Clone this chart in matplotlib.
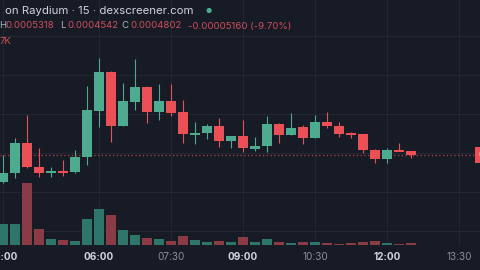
import numpy as np
import pandas as pd
import matplotlib
matplotlib.use('agg')
import matplotlib.pyplot as plt

plt.rcParams['font.family'] = ['Inter', 'DejaVu Sans']

# 15 minute candles, prices in units of 1e-7
opens = [4242, 4422, 5034, 4542, 4422, 4474, 4442, 4754, 5674, 6442,
         5368, 5854, 6154, 5642, 5874, 5642, 5198, 5234, 5368, 5068,
         5168, 4914, 4968, 5408, 5188, 5342, 5122, 5454, 5368, 5222,
         5208, 4888, 4702, 4882, 4868]
highs = [4788, 5122, 5588, 4922, 4554, 4688, 4888, 6168, 6722, 6474,
         6234, 6708, 6168, 6202, 6202, 5888, 5454, 5408, 5534, 5174,
         5488, 5142, 5568, 5434, 5622, 5388, 5588, 5654, 5442, 5254,
         5208, 4902, 4922, 5034, 4868]
lows = [4222, 4322, 4522, 4342, 4354, 4374, 4422, 4588, 5342, 5054,
        5368, 5688, 5422, 5488, 5574, 5022, 5002, 5102, 4942, 4922,
        4854, 4874, 4854, 5022, 5188, 5008, 5122, 5334, 5142, 5122,
        4822, 4622, 4634, 4858, 4722]
closes = [4422, 5034, 4542, 4422, 4474, 4434, 4754, 5688, 6442, 5368,
          5868, 6154, 5642, 5874, 5622, 5208, 5222, 5368, 5068, 5174,
          4922, 4968, 5408, 5188, 5334, 5122, 5454, 5368, 5208, 5202,
          4888, 4702, 4888, 4868, 4788]
volumes = [74, 76, 217, 56, 21, 18, 14, 91, 126, 105,
           55, 35, 25, 21, 14, 34, 18, 11, 14, 11,
           30, 11, 21, 12, 9, 11, 11, 7, 5, 7,
           12, 16, 9, 5, 7]  # thousands
grid_levels = [3268, 4048, 4828, 5608, 6388, 7168]
tick_labels = ['04:00', '06:00', '07:30', '09:00', '10:30', '12:00', '13:30']
tick_bold = [True, True, False, True, False, True, False]

bg = '#171b26'
green = '#4dab90'
red = '#ec5056'
green_vol = '#2e766a'
red_vol = '#8a3b45'
gridc = '#232734'

o = np.array(opens) * 1e-7
h = np.array(highs) * 1e-7
l = np.array(lows) * 1e-7
c = np.array(closes) * 1e-7
v = np.array(volumes)
x = np.arange(len(o))
up = c >= o
times = pd.date_range('2024-01-01 04:00', periods=len(o), freq='15min')

fig = plt.figure(figsize=(4.8, 2.7), dpi=100, facecolor=bg)
ax = fig.add_axes([0, 24.7 / 270, 1, 245.3 / 270])
ax.set_facecolor(bg)
ax.set_xlim(-0.25, 39.75)
ax.set_ylim(2982e-7, 7888e-7)

# grid
tick_pos = [(pd.Timestamp('2024-01-01 ' + t) - times[0]) / pd.Timedelta('15min') for t in tick_labels]
ax.set_xticks(tick_pos)
ax.set_yticks(np.array(grid_levels) * 1e-7)
ax.tick_params(length=0, labelbottom=False, labelleft=False)
ax.grid(True, color=gridc, lw=0.8)
ax.set_axisbelow(True)
for s in ax.spines.values():
    s.set_visible(False)

# volume overlay
ax.bar(x, v / 858.0, width=0.9, bottom=0, color=np.where(up, green_vol, red_vol),
       transform=ax.get_xaxis_transform(), zorder=1)

# candles
col = np.where(up, green, red)
ax.vlines(x, l, h, color=col, lw=0.8, zorder=2)
body = c - o
min_body = 25e-7
body = np.where(np.abs(body) < min_body, np.where(body < 0, -min_body, min_body), body)
ax.bar(x, body, bottom=o, width=0.78, color=col, zorder=3)

# last price line + label
ax.axhline(c[-1], color=red, lw=0.9, ls=(0, (1, 2)), alpha=0.75, zorder=2)
ax.annotate('0.0004802', xy=(478.6 / 480, c[-1]), xycoords=('axes fraction', 'data'),
            ha='left', va='center', fontsize=7, color='white',
            bbox=dict(boxstyle='square,pad=0.35', fc=red, ec='none'), zorder=5)

# time labels
for pos, lab, b in zip(tick_pos, tick_labels, tick_bold):
    fig.text((3 + 12 * pos) / 480, 1 - 257.5 / 270, lab, ha='center', va='center',
             fontsize=7.2, color='#d1d4dc' if b else '#8b8f9b',
             fontweight='bold' if b else 'normal')

# header
fig.text(5 / 480, 1 - 11 / 270, 'on Raydium · 15 · dexscreener.com', ha='left', va='center',
         fontsize=8.2, color='#d1d4dc')
fig.text(209 / 480, 1 - 11 / 270, '●', ha='center', va='center', fontsize=5, color=green)
hdr_red = '#d0505c'
hdr_gray = '#b2b5be'
y2 = 1 - 26 / 270
for xp, s, cc in [(-1, 'H', hdr_gray), (5, '0.0005318', hdr_red), (60, 'L', hdr_gray),
                  (67, '0.0004542', hdr_red), (121, 'C', hdr_gray), (130, '0.0004802', hdr_red),
                  (188, '-0.00005160 (-9.70%)', hdr_red)]:
    fig.text(xp / 480, y2, s, ha='left', va='center', fontsize=6.9, color=cc)
fig.text(0, 1 - 41 / 270, '7K', ha='left', va='center', fontsize=6.9, color=hdr_red)

fig.savefig('out.png', dpi=100, facecolor=bg)
